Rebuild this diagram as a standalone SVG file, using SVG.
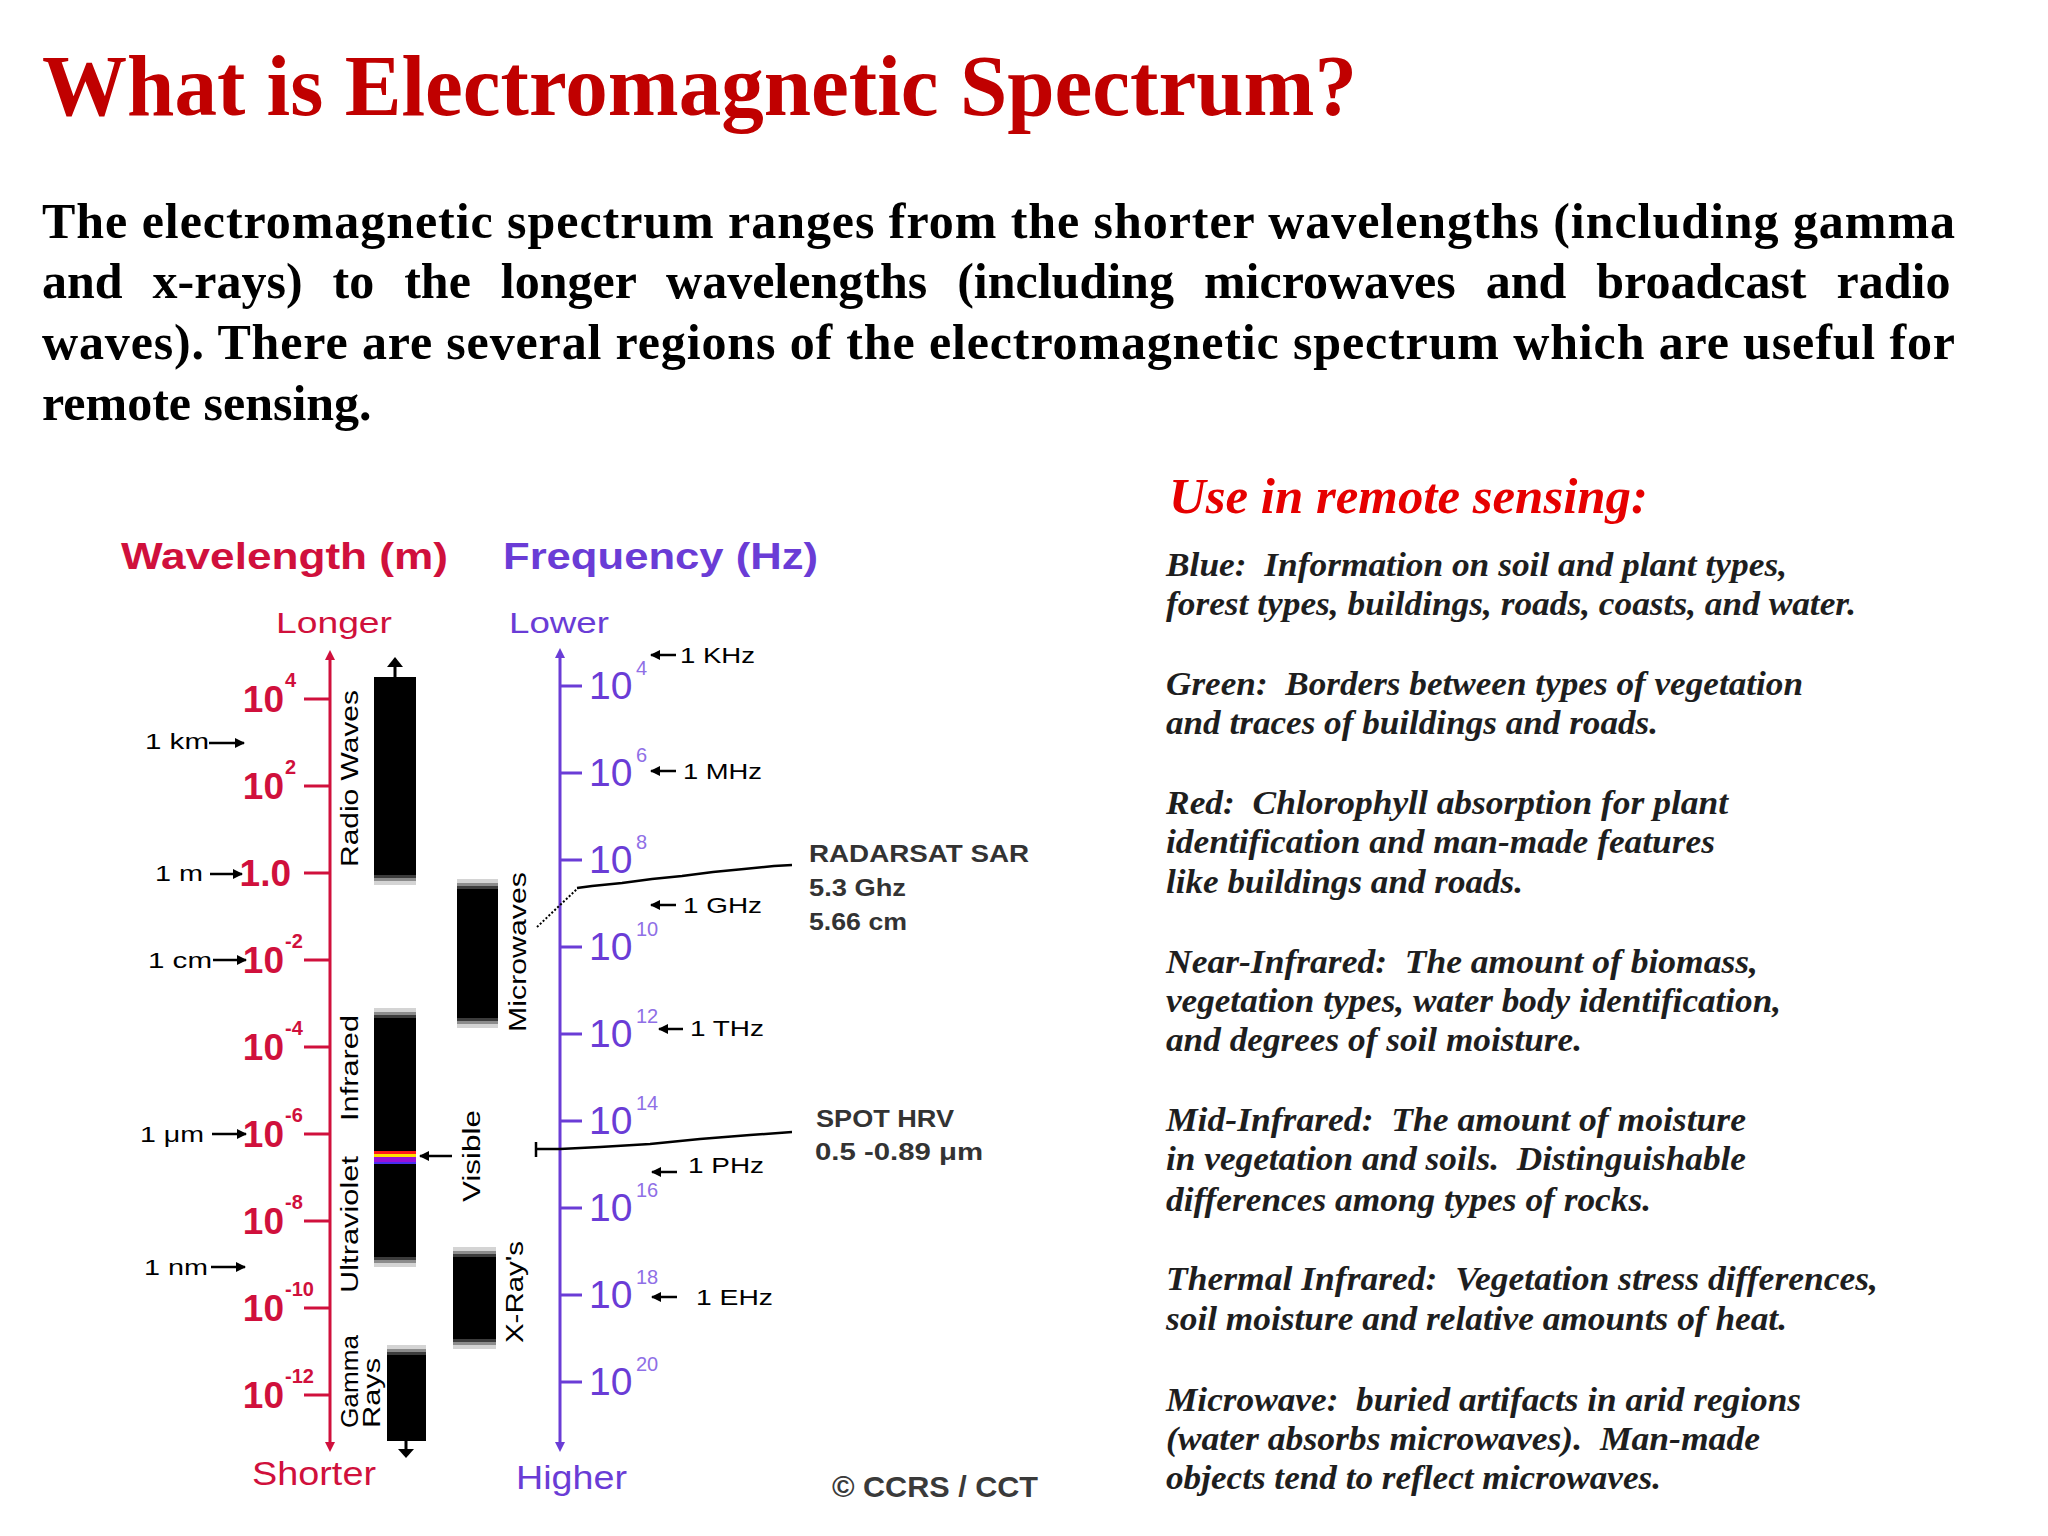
<svg xmlns="http://www.w3.org/2000/svg" width="2048" height="1536" viewBox="0 0 2048 1536">
<style>
.title{font-family:"Liberation Serif",serif;font-weight:bold;font-size:86px;fill:#c00000}
.para{font-family:"Liberation Serif",serif;font-weight:bold;font-size:50px;fill:#000}
.use{font-family:"Liberation Serif",serif;font-weight:bold;font-style:italic;font-size:51px;fill:#e60000}
.desc{font-family:"Liberation Serif",serif;font-weight:bold;font-style:italic;font-size:34px;fill:#1e1e1e}
.wl{font-family:"Liberation Sans",sans-serif;font-weight:bold;fill:#d0103c}
.wlh{font-family:"Liberation Sans",sans-serif;fill:#d0103c}
.fq{font-family:"Liberation Sans",sans-serif;fill:#6a3cd6}
.fqe{font-family:"Liberation Sans",sans-serif;fill:#8f6fe6;font-size:20px}
.lbl{font-family:"Liberation Sans",sans-serif;fill:#000;font-size:22px}
.vl{font-family:"Liberation Sans",sans-serif;fill:#000;font-size:23px}
.sat{font-family:"Liberation Sans",sans-serif;fill:#333;font-size:24px;font-weight:bold}
.raxis{stroke:#d0103c;stroke-width:3;fill:none}
.paxis{stroke:#6a3cd6;stroke-width:3;fill:none}
.arr{stroke:#000;stroke-width:2.5;fill:none}
.f1{fill:#d4d4d4}.f2{fill:#8c8c8c}.f3{fill:#3c3c3c}
</style>
<defs>
<marker id="ah" viewBox="0 0 10 10" refX="9" refY="5" markerWidth="10" markerHeight="11" markerUnits="userSpaceOnUse" orient="auto"><path d="M0,0 L10,5 L0,10 z" fill="#000"/></marker>
<marker id="ahr" viewBox="0 0 18 10" refX="9" refY="5" markerWidth="18" markerHeight="10" markerUnits="userSpaceOnUse" orient="auto-start-reverse"><path d="M0,0 L10,5 L0,10 z" fill="#d0103c" transform="translate(4,0)"/></marker>
<marker id="ahp" viewBox="0 0 18 10" refX="9" refY="5" markerWidth="18" markerHeight="10" markerUnits="userSpaceOnUse" orient="auto-start-reverse"><path d="M0,0 L10,5 L0,10 z" fill="#6a3cd6" transform="translate(4,0)"/></marker>
</defs>
<rect width="2048" height="1536" fill="#fff"/>

<g id="title"><text class="title" x="42" y="115" textLength="1315" lengthAdjust="spacingAndGlyphs">What is Electromagnetic Spectrum?</text></g>

<g id="intro">
<text class="para" x="42" y="238" textLength="1913" lengthAdjust="spacing">The electromagnetic spectrum ranges from the shorter wavelengths (including gamma</text>
<text class="para" x="42" y="298" word-spacing="17.5">and x-rays) to the longer wavelengths (including microwaves and broadcast radio</text>
<text class="para" x="42" y="359" textLength="1913" lengthAdjust="spacing">waves). There are several regions of the electromagnetic spectrum which are useful for</text>
<text class="para" x="42" y="420">remote sensing.</text>
</g>

<g id="wavelength-axis">
<text class="wl" x="121" y="569" font-size="37" textLength="327" lengthAdjust="spacingAndGlyphs">Wavelength (m)</text>
<text class="wlh" x="276" y="633" font-size="29" textLength="116" lengthAdjust="spacingAndGlyphs">Longer</text>
<text class="wlh" x="252" y="1485" font-size="33" textLength="124" lengthAdjust="spacingAndGlyphs">Shorter</text>
<line class="raxis" x1="330" y1="655" x2="330" y2="1447" marker-start="url(#ahr)" marker-end="url(#ahr)"/>
<path class="raxis" d="M304,699H330M304,786H330M304,873H330M304,960H330M304,1047H330M304,1134H330M304,1221H330M304,1308H330M304,1395H330"/>
<g class="wl" font-size="37" text-anchor="end">
<text x="284" y="712">10</text><text x="284" y="799">10</text><text x="291" y="886">1.0</text>
<text x="284" y="973">10</text><text x="284" y="1060">10</text><text x="284" y="1147">10</text>
<text x="284" y="1234">10</text><text x="284" y="1321">10</text><text x="284" y="1408">10</text>
</g>
<g class="wl" font-size="20">
<text x="285" y="687">4</text><text x="285" y="774">2</text>
<text x="285" y="948">-2</text><text x="285" y="1035">-4</text><text x="285" y="1122">-6</text>
<text x="285" y="1209">-8</text><text x="285" y="1296">-10</text><text x="285" y="1383">-12</text>
</g>
</g>

<g id="wavelength-units">
<text class="lbl" x="145" y="749" textLength="64" lengthAdjust="spacingAndGlyphs">1 km</text>
<text class="lbl" x="155" y="881" textLength="48" lengthAdjust="spacingAndGlyphs">1 m</text>
<text class="lbl" x="148" y="968" textLength="64" lengthAdjust="spacingAndGlyphs">1 cm</text>
<text class="lbl" x="140" y="1142" textLength="64" lengthAdjust="spacingAndGlyphs">1 μm</text>
<text class="lbl" x="144" y="1275" textLength="64" lengthAdjust="spacingAndGlyphs">1 nm</text>
</g>

<g id="frequency-axis">
<text class="fq" x="503" y="569" font-size="37" font-weight="bold" textLength="315" lengthAdjust="spacingAndGlyphs">Frequency (Hz)</text>
<text class="fq" x="509" y="633" font-size="29" textLength="100" lengthAdjust="spacingAndGlyphs">Lower</text>
<text class="fq" x="516" y="1489" font-size="33" textLength="111" lengthAdjust="spacingAndGlyphs">Higher</text>
<line class="paxis" x1="560" y1="653" x2="560" y2="1447" marker-start="url(#ahp)" marker-end="url(#ahp)"/>
<path class="paxis" d="M560,686H582M560,773H582M560,860H582M560,947H582M560,1034H582M560,1121H582M560,1208H582M560,1295H582M560,1382H582"/>
<g class="fq" font-size="39">
<text x="589" y="699">10</text><text x="589" y="786">10</text><text x="589" y="873">10</text>
<text x="589" y="960">10</text><text x="589" y="1047">10</text><text x="589" y="1134">10</text>
<text x="589" y="1221">10</text><text x="589" y="1308">10</text><text x="589" y="1395">10</text>
</g>
<g class="fqe">
<text x="636" y="675">4</text><text x="636" y="762">6</text><text x="636" y="849">8</text>
<text x="636" y="936">10</text><text x="636" y="1023">12</text><text x="636" y="1110">14</text>
<text x="636" y="1197">16</text><text x="636" y="1284">18</text><text x="636" y="1371">20</text>
</g>
</g>

<g id="frequency-units">
<text class="lbl" x="680" y="663" textLength="75" lengthAdjust="spacingAndGlyphs">1 KHz</text>
<text class="lbl" x="683" y="779" textLength="79" lengthAdjust="spacingAndGlyphs">1 MHz</text>
<text class="lbl" x="683" y="913" textLength="79" lengthAdjust="spacingAndGlyphs">1 GHz</text>
<text class="lbl" x="690" y="1036" textLength="74" lengthAdjust="spacingAndGlyphs">1 THz</text>
<text class="lbl" x="688" y="1173" textLength="76" lengthAdjust="spacingAndGlyphs">1 PHz</text>
<text class="lbl" x="696" y="1305" textLength="77" lengthAdjust="spacingAndGlyphs">1 EHz</text>
</g>

<g id="band-radio">
<rect x="374" y="677" width="42" height="198"/>
<rect class="f3" x="374" y="875" width="42" height="3"/><rect class="f2" x="374" y="878" width="42" height="3"/><rect class="f1" x="374" y="881" width="42" height="4"/>
<line x1="395" y1="666" x2="395" y2="677" stroke="#000" stroke-width="3"/>
<path d="M395,657 L387,667 L403,667 z"/>
<text class="vl" transform="translate(358,867) rotate(-90)" textLength="177" lengthAdjust="spacingAndGlyphs">Radio Waves</text>
</g>

<g id="band-ir-uv">
<rect class="f1" x="374" y="1008" width="42" height="4"/><rect class="f2" x="374" y="1012" width="42" height="3"/><rect class="f3" x="374" y="1015" width="42" height="3"/>
<rect x="374" y="1018" width="42" height="239"/>
<rect class="f3" x="374" y="1257" width="42" height="3"/><rect class="f2" x="374" y="1260" width="42" height="3"/><rect class="f1" x="374" y="1263" width="42" height="4"/>
<rect x="374" y="1151" width="42" height="3" fill="#ff1a1a"/>
<rect x="374" y="1154" width="42" height="3" fill="#ffe000"/>
<rect x="374" y="1157" width="42" height="5" fill="#9a12d8"/>
<rect x="374" y="1162" width="42" height="2" fill="#4a2cf0"/>
<text class="vl" transform="translate(358,1121) rotate(-90)" textLength="106" lengthAdjust="spacingAndGlyphs">Infrared</text>
<text class="vl" transform="translate(358,1293) rotate(-90)" textLength="137" lengthAdjust="spacingAndGlyphs">Ultraviolet</text>
</g>

<g id="band-gamma">
<rect class="f1" x="387" y="1345" width="39" height="4"/><rect class="f2" x="387" y="1349" width="39" height="3"/><rect class="f3" x="387" y="1352" width="39" height="3"/>
<rect x="387" y="1355" width="39" height="86"/>
<line x1="406" y1="1441" x2="406" y2="1450" stroke="#000" stroke-width="3"/>
<path d="M398,1449 L414,1449 L406,1458 z"/>
<text class="vl" transform="translate(358,1428) rotate(-90)" textLength="93" lengthAdjust="spacingAndGlyphs">Gamma</text>
<text class="vl" transform="translate(380,1428) rotate(-90)" textLength="70" lengthAdjust="spacingAndGlyphs">Rays</text>
</g>

<g id="band-microwaves">
<rect class="f1" x="457" y="879" width="41" height="4"/><rect class="f2" x="457" y="883" width="41" height="3"/><rect class="f3" x="457" y="886" width="41" height="3"/>
<rect x="457" y="889" width="41" height="129"/>
<rect class="f3" x="457" y="1018" width="41" height="3"/><rect class="f2" x="457" y="1021" width="41" height="3"/><rect class="f1" x="457" y="1024" width="41" height="4"/>
<text class="vl" transform="translate(526,1032) rotate(-90)" textLength="160" lengthAdjust="spacingAndGlyphs">Microwaves</text>
</g>

<g id="band-xrays">
<rect class="f1" x="453" y="1247" width="43" height="4"/><rect class="f2" x="453" y="1251" width="43" height="3"/><rect class="f3" x="453" y="1254" width="43" height="3"/>
<rect x="453" y="1257" width="43" height="82"/>
<rect class="f3" x="453" y="1339" width="43" height="3"/><rect class="f2" x="453" y="1342" width="43" height="3"/><rect class="f1" x="453" y="1345" width="43" height="4"/>
<text class="vl" transform="translate(523,1343) rotate(-90)" textLength="102" lengthAdjust="spacingAndGlyphs">X-Ray's</text>
</g>

<g id="band-visible">
<text class="vl" transform="translate(480,1202) rotate(-90)" textLength="92" lengthAdjust="spacingAndGlyphs">Visible</text>
</g>

<g id="radarsat">
<text class="sat" x="809" y="862" textLength="220" lengthAdjust="spacingAndGlyphs">RADARSAT SAR</text>
<text class="sat" x="809" y="896" textLength="97" lengthAdjust="spacingAndGlyphs">5.3 Ghz</text>
<text class="sat" x="809" y="930" textLength="98" lengthAdjust="spacingAndGlyphs">5.66 cm</text>
</g>
<g id="spot">
<text class="sat" x="816" y="1127" textLength="138" lengthAdjust="spacingAndGlyphs">SPOT HRV</text>
<text class="sat" x="815" y="1160" textLength="168" lengthAdjust="spacingAndGlyphs">0.5 -0.89 μm</text>
</g>

<g id="connectors">
<line class="arr" x1="209" y1="743" x2="244" y2="743" marker-end="url(#ah)"/>
<line class="arr" x1="210" y1="874" x2="242" y2="874" marker-end="url(#ah)"/>
<line class="arr" x1="213" y1="960" x2="246" y2="960" marker-end="url(#ah)"/>
<line class="arr" x1="212" y1="1134" x2="246" y2="1134" marker-end="url(#ah)"/>
<line class="arr" x1="211" y1="1267" x2="245" y2="1267" marker-end="url(#ah)"/>
<line class="arr" x1="676" y1="655" x2="651" y2="655" marker-end="url(#ah)"/>
<line class="arr" x1="676" y1="771" x2="651" y2="771" marker-end="url(#ah)"/>
<line class="arr" x1="676" y1="905" x2="651" y2="905" marker-end="url(#ah)"/>
<line class="arr" x1="683" y1="1029" x2="659" y2="1029" marker-end="url(#ah)"/>
<line class="arr" x1="677" y1="1172" x2="652" y2="1172" marker-end="url(#ah)"/>
<line class="arr" x1="677" y1="1297" x2="652" y2="1297" marker-end="url(#ah)"/>
<line class="arr" x1="452" y1="1156" x2="420" y2="1156" marker-end="url(#ah)"/>
<line x1="537" y1="927" x2="578" y2="888" stroke="#000" stroke-width="2" stroke-dasharray="2,2"/>
<polyline points="577,888 592,886 622,883 652,879 682,876 713,872 744,869 774,866 792,865" fill="none" stroke="#000" stroke-width="2.5"/>
<path d="M536,1142V1157M536,1149H560L600,1147L650,1144L700,1139L750,1135L792,1132" fill="none" stroke="#000" stroke-width="2.5"/>
</g>

<g id="credit"><text x="832" y="1497" font-family="Liberation Sans,sans-serif" font-weight="bold" font-size="30" fill="#3a3a3a" textLength="206" lengthAdjust="spacingAndGlyphs">© CCRS / CCT</text></g>

<g id="uses">
<text class="use" x="1169" y="513" textLength="479" lengthAdjust="spacingAndGlyphs">Use in remote sensing:</text>
<text class="desc" x="1166" y="576" textLength="621" lengthAdjust="spacingAndGlyphs">Blue:&#160; Information on soil and plant types,</text>
<text class="desc" x="1166" y="615" textLength="690" lengthAdjust="spacingAndGlyphs">forest types, buildings, roads, coasts, and water.</text>
<text class="desc" x="1166" y="695" textLength="637" lengthAdjust="spacingAndGlyphs">Green:&#160; Borders between types of vegetation</text>
<text class="desc" x="1166" y="734" textLength="492" lengthAdjust="spacingAndGlyphs">and traces of buildings and roads.</text>
<text class="desc" x="1166" y="814" textLength="562" lengthAdjust="spacingAndGlyphs">Red:&#160; Chlorophyll absorption for plant</text>
<text class="desc" x="1166" y="853" textLength="549" lengthAdjust="spacingAndGlyphs">identification and man-made features</text>
<text class="desc" x="1166" y="893" textLength="357" lengthAdjust="spacingAndGlyphs">like buildings and roads.</text>
<text class="desc" x="1166" y="973" textLength="592" lengthAdjust="spacingAndGlyphs">Near-Infrared:&#160; The amount of biomass,</text>
<text class="desc" x="1166" y="1012" textLength="615" lengthAdjust="spacingAndGlyphs">vegetation types, water body identification,</text>
<text class="desc" x="1166" y="1051" textLength="416" lengthAdjust="spacingAndGlyphs">and degrees of soil moisture.</text>
<text class="desc" x="1166" y="1131" textLength="580" lengthAdjust="spacingAndGlyphs">Mid-Infrared:&#160; The amount of moisture</text>
<text class="desc" x="1166" y="1170" textLength="580" lengthAdjust="spacingAndGlyphs">in vegetation and soils.&#160; Distinguishable</text>
<text class="desc" x="1166" y="1211" textLength="485" lengthAdjust="spacingAndGlyphs">differences among types of rocks.</text>
<text class="desc" x="1166" y="1290" textLength="712" lengthAdjust="spacingAndGlyphs">Thermal Infrared:&#160; Vegetation stress differences,</text>
<text class="desc" x="1166" y="1330" textLength="621" lengthAdjust="spacingAndGlyphs">soil moisture and relative amounts of heat.</text>
<text class="desc" x="1166" y="1411" textLength="635" lengthAdjust="spacingAndGlyphs">Microwave:&#160; buried artifacts in arid regions</text>
<text class="desc" x="1166" y="1450" textLength="594" lengthAdjust="spacingAndGlyphs">(water absorbs microwaves).&#160; Man-made</text>
<text class="desc" x="1166" y="1489" textLength="495" lengthAdjust="spacingAndGlyphs">objects tend to reflect microwaves.</text>
</g>
</svg>
